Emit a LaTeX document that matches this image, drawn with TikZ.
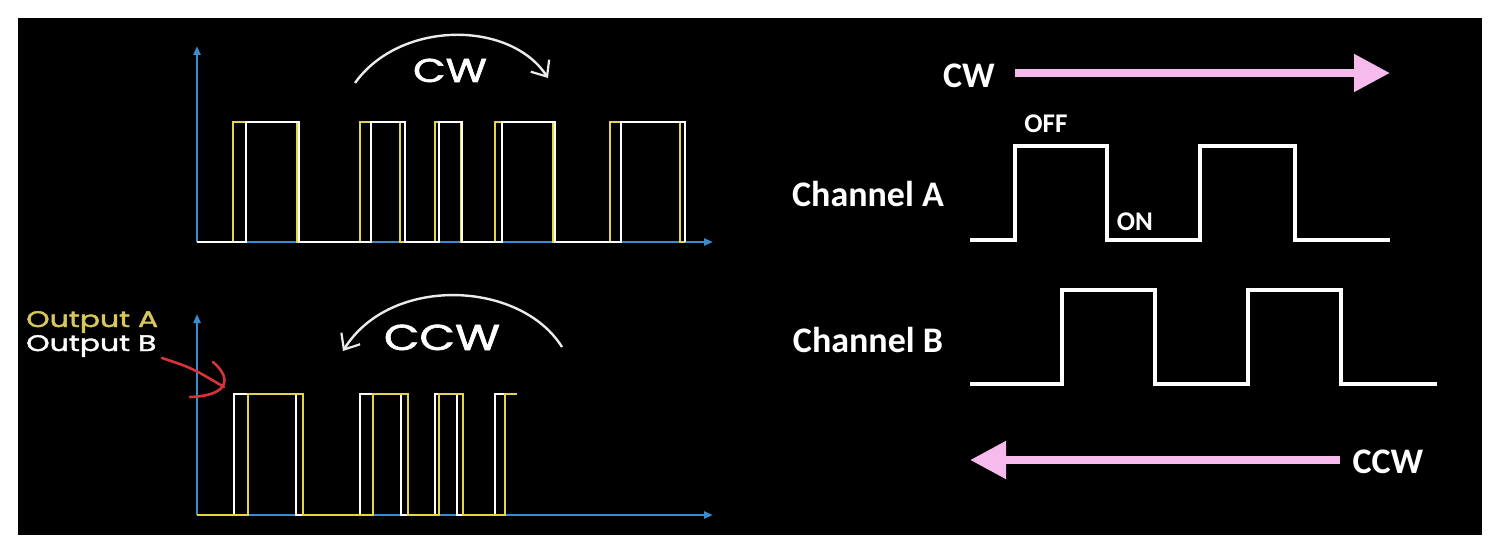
\documentclass[tikz,border=0pt]{standalone}
\usepackage{fontspec}
\setmainfont{Carlito}
\newfontfamily\geo[FakeBold=1.6]{Poppins}
\usetikzlibrary{arrows.meta}
\definecolor{axblue}{RGB}{60,140,205}
\definecolor{wyel}{RGB}{228,212,72}
\definecolor{txtyel}{RGB}{216,200,92}
\definecolor{pinkarr}{RGB}{246,186,236}
\definecolor{redarr}{RGB}{215,52,58}
\definecolor{arcgrey}{RGB}{235,235,235}
\begin{document}
\begin{tikzpicture}[x=1pt,y=-1pt,
  axis/.style={axblue,line width=2.4pt,-{Triangle[length=9pt,width=7pt]}},
  waveA/.style={wyel,line width=2.8pt,line join=miter},
  waveB/.style={white,line width=2.8pt,line join=miter},
  sig/.style={white,line width=4pt,line join=miter},
  rotarc/.style={arcgrey,line width=2.4pt,-{Straight Barb[length=13pt,width=22pt,line width=2.2pt]}},
  pinkarrow/.style={pinkarr,line width=8pt,-{Triangle[length=36pt,width=36pt]}},
  geotxt/.style={inner sep=0pt,anchor=base,text=white},
  caltxt/.style={inner sep=0pt,anchor=base,text=white,font=\bfseries\fontsize{36}{36}\selectfont},
  smalltxt/.style={inner sep=0pt,anchor=base,text=white,font=\bfseries\fontsize{27}{27}\selectfont}
]
\useasboundingbox (0,0) rectangle (1501,548);
\fill[white] (0,0) rectangle (1501,548);
\fill[black] (18,18) rectangle (1482,535);

% ---------- top-left graph (CW) ----------
\coordinate (o1) at (197,242);
\coordinate (y1) at (197,46);
\coordinate (x1) at (713,242);
\draw[axis] (o1) -- (y1);
\draw[axis] (o1) -- (x1);
\draw[waveA] (197,242) -- (233,242) -- (233,122) -- (297,122) -- (297,242)
  -- (360,242) -- (360,122) -- (400,122) -- (400,242)
  -- (435,242) -- (435,122) -- (461,122) -- (461,242)
  -- (495,242) -- (495,122) -- (553,122) -- (553,242)
  -- (610,242) -- (610,122) -- (680,122) -- (680,242) -- (685,242);
\draw[waveB] (197,242) -- (246,242) -- (246,122) -- (299,122) -- (299,242)
  -- (371,242) -- (371,122) -- (405,122) -- (405,242)
  -- (439,242) -- (439,122) -- (462,122) -- (462,242)
  -- (502,242) -- (502,122) -- (555,122) -- (555,242)
  -- (621,242) -- (621,122) -- (685,122) -- (685,242);
\coordinate (cwa) at (355,83);
\coordinate (cwb) at (548,78);
\draw[rotarc] (cwa) .. controls (400,20) and (510,20) .. (cwb);
\node[geotxt] (cwl) at (450,82) {\scalebox{1.28}[1]{\geo\fontsize{33}{33}\selectfont CW}};

% ---------- bottom-left graph (CCW) ----------
\coordinate (o2) at (197,515);
\coordinate (y2) at (197,314);
\coordinate (x2) at (713,515);
\draw[axis] (o2) -- (y2);
\draw[axis] (o2) -- (x2);
\draw[waveB] (197,515) -- (234,515) -- (234,394) -- (296,394) -- (296,515)
  -- (360,515) -- (360,394) -- (401,394) -- (401,515)
  -- (435,515) -- (435,394) -- (457,394) -- (457,515)
  -- (495,515) -- (495,394) -- (517,394);
\draw[waveA] (197,515) -- (248,515) -- (248,394) -- (303,394) -- (303,515)
  -- (373,515) -- (373,394) -- (408,394) -- (408,515)
  -- (439,515) -- (439,394) -- (463,394) -- (463,515)
  -- (505,515) -- (505,394) -- (517,394);
\coordinate (ccwa) at (562,347);
\coordinate (ccwb) at (343,351);
\draw[rotarc] (ccwa) .. controls (520,280) and (390,275) .. (ccwb);
\node[geotxt] (ccwl) at (442,350) {\scalebox{1.28}[1]{\geo\fontsize{36}{36}\selectfont CCW}};
\node[inner sep=0pt,anchor=base west,text=txtyel] (outa) at (26,327) {\scalebox{1.33}[1]{\geo\fontsize{22.5}{22.5}\selectfont Output A}};
\node[inner sep=0pt,anchor=base west,text=white] (outb) at (26,351) {\scalebox{1.33}[1]{\geo\fontsize{22.5}{22.5}\selectfont Output B}};
\coordinate (ra) at (162,358);
\coordinate (rb) at (224,387);
\coordinate (rc) at (213,362);
\coordinate (rd) at (190,397);
\draw[redarr,line width=2.6pt,line cap=round] (ra) .. controls (192,368) .. (rb);
\draw[redarr,line width=2.6pt,line cap=round] (rc) .. controls (234,380) and (226,396) .. (rd);

% ---------- right panel ----------
\node[caltxt] (cwr) at (969,88) {CW};
\coordinate (cws) at (1015,73);
\coordinate (cwe) at (1390,73);
\draw[pinkarrow] (cws) -- (cwe);
\node[smalltxt] (off) at (1046,133) {OFF};
\node[smalltxt] (on) at (1135,230) {ON};
\node[caltxt] (cha) at (868,207) {Channel A};
\draw[sig] (970,240) -- (1015,240) -- (1015,146) -- (1107,146) -- (1107,240)
  -- (1200,240) -- (1200,146) -- (1295,146) -- (1295,240) -- (1390,240);
\node[caltxt] (chb) at (868,352) {Channel B};
\draw[sig] (970,384) -- (1062,384) -- (1062,290) -- (1155,290) -- (1155,384)
  -- (1248,384) -- (1248,290) -- (1341,290) -- (1341,384) -- (1437,384);
\coordinate (ccws) at (1340,460);
\coordinate (ccwe) at (970,460);
\draw[pinkarrow] (ccws) -- (ccwe);
\node[caltxt] (ccwr) at (1388,473) {CCW};
\end{tikzpicture}
\end{document}
